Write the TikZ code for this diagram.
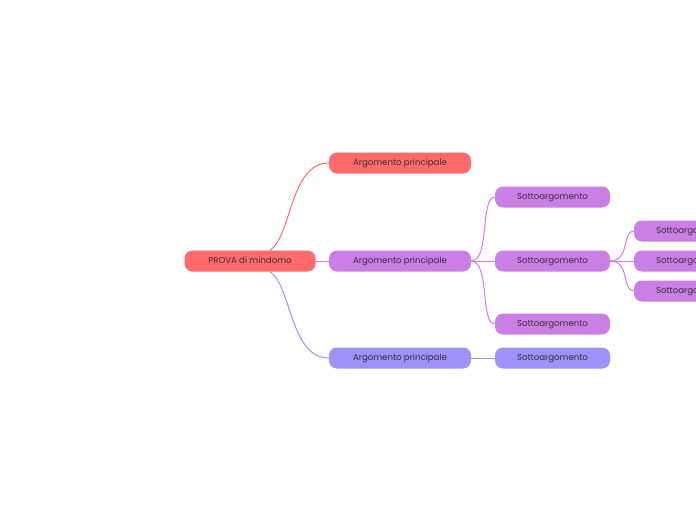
\documentclass[tikz,border=0pt]{standalone}
\usepackage{fontspec}
\setmainfont{Poppins}
\definecolor{cred}{HTML}{FF6B6B}
\definecolor{cpur}{HTML}{C97FE3}
\definecolor{cblu}{HTML}{9C92F7}
\definecolor{ctxt}{HTML}{3A2E3A}
\begin{document}
\begin{tikzpicture}[x=1pt,y=-1pt,
  box/.style={rounded corners=8pt,minimum height=21pt,inner sep=0pt,text height=4.5pt,text depth=0pt,text=ctxt,font=\fontsize{8.6}{10}\selectfont},
  root/.style={box,fill=cred,minimum width=131pt},
  main/.style={box,minimum width=142pt},
  sub/.style={box,minimum width=115pt},
  ln/.style={line width=1pt}]
\useasboundingbox (0,0) rectangle (696,520);
\fill[white] (0,0) rectangle (696,520);
\begin{scope}
\clip (0,0) rectangle (696,520);
\node[root] (r) at (250,261) {PROVA di mindomo};
\node[main,fill=cred] (a1) at (400,163) {Argomento principale};
\node[main,fill=cpur] (a2) at (400,261) {Argomento principale};
\node[main,fill=cblu] (a3) at (400,358) {Argomento principale};
\node[sub,fill=cpur] (s1) at (552.5,197) {Sottoargomento};
\node[sub,fill=cpur] (s2) at (552.5,261) {Sottoargomento};
\node[sub,fill=cpur] (s3) at (552.5,324) {Sottoargomento};
\node[sub,fill=cblu] (s4) at (552.5,358) {Sottoargomento};
\node[sub,fill=cpur] (t1) at (691.5,231) {Sottoargomento};
\node[sub,fill=cpur] (t2) at (691.5,261) {Sottoargomento};
\node[sub,fill=cpur] (t3) at (691.5,291) {Sottoargomento};
\coordinate (ru) at (270,250.5);
\coordinate (rd) at (270,271.5);
\draw[ln,cred] (ru) .. controls (292,235) and (290,163) .. (a1.west);
\draw[ln,cpur] (r.east) -- (a2.west);
\draw[ln,cblu] (rd) .. controls (292,287) and (290,358) .. (a3.west);
\draw[ln,cpur] (a2.east) .. controls (490,261) and (480,197) .. (s1.west);
\draw[ln,cpur] (a2.east) -- (s2.west);
\draw[ln,cpur] (a2.east) .. controls (490,261) and (480,324) .. (s3.west);
\draw[ln,cblu] (a3.east) -- (s4.west);
\draw[ln,cpur] (s2.east) .. controls (630,261) and (622,231) .. (t1.west);
\draw[ln,cpur] (s2.east) -- (t2.west);
\draw[ln,cpur] (s2.east) .. controls (630,261) and (622,291) .. (t3.west);
\end{scope}
\end{tikzpicture}
\end{document}
